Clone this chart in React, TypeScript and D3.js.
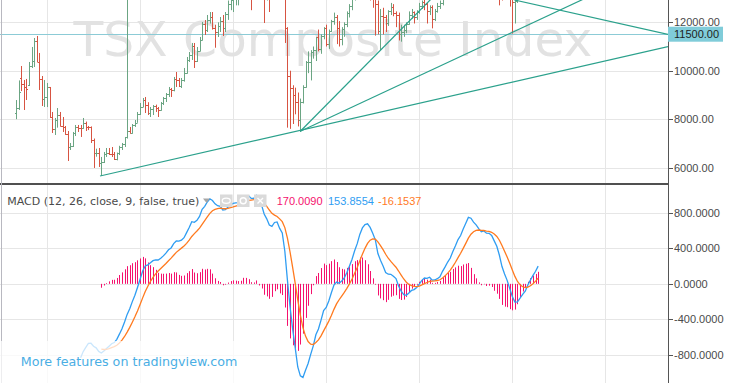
import React from "react";
import * as d3 from "d3";

// Monthly bars, Jan 2000 .. Nov 2016
const opens: number[] = [
  8250, 8481, 9700, 9462, 9348, 9400, 10196, 10406, 11248, 10378, 9640, 8820,
  8934, 9322, 8079, 7608, 7947, 8161, 7736, 7690, 7399, 6839, 6886, 7426,
  7688, 7648, 7638, 7851, 7663, 7656, 7146, 6605, 6612, 6180, 6249, 6570,
  6615, 6569, 6555, 6343, 6586, 6860, 6983, 7258, 7517, 7421, 7773, 7859,
  8221, 8521, 8788, 8586, 8244, 8417, 8546, 8458, 8377, 8668, 8871, 9030,
  9247, 9204, 9668, 9612, 9369, 9607, 9903, 10423, 10669, 11012, 10383, 10824,
  11272, 11946, 11688, 12111, 12204, 11745, 11613, 11831, 12074, 11761, 12345, 12752,
  12908, 13034, 13045, 13166, 13417, 14057, 13907, 13869, 13660, 14099, 14625, 13689,
  13833, 13155, 13583, 13350, 13937, 14715, 14467, 13593, 13771, 11753, 9763, 9271,
  8988, 8695, 7957, 8720, 9325, 10370, 10375, 10787, 10868, 11395, 10911, 11447,
  11746, 11094, 11630, 12038, 12211, 11763, 11294, 11713, 11914, 12369, 12676, 12953,
  13443, 13552, 14137, 14116, 13945, 13803, 13301, 12946, 12769, 11624, 12252, 12204,
  11955, 12452, 12644, 12392, 12293, 11513, 11597, 11665, 11949, 12317, 12423, 12239,
  12434, 12685, 12822, 12750, 12457, 12650, 12129, 12487, 12654, 12787, 13361, 13395,
  13622, 13695, 14210, 14335, 14652, 14604, 15146, 15331, 15626, 14961, 14613, 14745,
  14632, 14674, 15234, 14902, 15225, 15014, 14553, 14468, 13859, 13307, 13529, 13470,
  13010, 12822, 12860, 13494, 13951, 14066, 14065, 14583, 14598, 14725, 14787,
];
const highs: number[] = [
  8790, 9600, 10196, 9618, 9660, 10361, 10981, 11352, 11435, 10733, 9783, 9618,
  9494, 9329, 8297, 8049, 8460, 8297, 8090, 7718, 7512, 7016, 7471, 7760,
  7760, 7760, 8049, 7900, 7720, 7700, 7200, 6780, 6810, 6440, 6645, 6810,
  6810, 6851, 6645, 6620, 6900, 7017, 7265, 13500, 7678, 7800, 7966, 8297,
  8668, 8875, 8916, 8700, 8503, 8585, 8600, 8503, 8710, 8916, 9081, 9329,
  9288, 9742, 9948, 9700, 9700, 10114, 10568, 10774, 11146, 11146, 10981, 11394,
  12012, 12095, 12302, 12425, 12425, 11900, 12000, 12219, 12302, 12425, 12900, 13000,
  13100, 13400, 13300, 13600, 14100, 14200, 14150, 13900, 14100, 14650, 14700, 14100,
  13900, 13800, 13800, 14000, 14800, 15150, 14500, 13900, 13900, 11800, 10000, 9400,
  9300, 9100, 8850, 9400, 10400, 10800, 10850, 11000, 11400, 11700, 11500, 11800,
  11900, 11700, 12100, 12400, 12300, 12050, 11800, 12000, 12450, 12750, 13050, 13500,
  13600, 14300, 14300, 14350, 14100, 13900, 13550, 12950, 12900, 12550, 12600, 12300,
  12500, 12800, 12750, 12450, 12400, 11900, 11900, 12000, 12450, 12550, 12450, 12500,
  12800, 12900, 12950, 12800, 12700, 12700, 12550, 12800, 12900, 13400, 13500, 13650,
  13900, 14250, 14450, 14700, 14700, 15150, 15400, 15650, 15700, 15000, 14900, 14800,
  14800, 15250, 15300, 15500, 15300, 15100, 14700, 14500, 13900, 13800, 13700, 13500,
  13050, 13000, 13600, 14000, 14100, 14300, 14600, 14800, 14800, 14900, 15100,
];
const lows: number[] = [
  8000, 8380, 9160, 8379, 8792, 9370, 10113, 10155, 10361, 9205, 8544, 8503,
  8500, 8050, 7430, 7347, 7650, 7700, 7471, 7350, 6273, 6727, 6851, 7305,
  7471, 7265, 7600, 7512, 7550, 7016, 5985, 6450, 6026, 5654, 6191, 6439,
  6521, 6439, 6315, 6300, 6521, 6727, 6851, 7200, 7400, 7400, 7678, 7850,
  8172, 8503, 8255, 8172, 8090, 8172, 8297, 8090, 8350, 8585, 8709, 8916,
  8916, 9150, 9329, 9329, 9288, 9550, 9880, 10361, 10444, 10114, 10361, 10800,
  11250, 11476, 11600, 11950, 11700, 10950, 11394, 11600, 11435, 11600, 12100, 12500,
  12425, 12700, 12700, 13100, 13400, 13700, 13400, 12500, 13300, 13900, 13000, 13200,
  11970, 12900, 12425, 13300, 13900, 14400, 13000, 13000, 11146, 7650, 7600, 7800,
  8200, 7700, 7470, 8650, 9300, 9900, 9600, 10500, 10400, 10800, 10700, 11300,
  11000, 10900, 11600, 11900, 11100, 11000, 11050, 11400, 11800, 12200, 12500, 12900,
  13100, 13500, 13400, 13600, 13300, 12900, 12600, 11450, 11500, 10850, 11500, 11600,
  11850, 12300, 12250, 11800, 11250, 11200, 11400, 11550, 11900, 12150, 11950, 12100,
  12350, 12550, 12500, 11950, 12300, 11750, 12050, 12400, 12550, 12700, 13200, 13000,
  13400, 13500, 14100, 14150, 14350, 14550, 15000, 15150, 14900, 13900, 14500, 13900,
  14000, 14650, 14700, 14900, 14900, 14500, 14000, 12700, 12900, 13200, 13000, 12650,
  11531, 11950, 12800, 13400, 13600, 13600, 14000, 14400, 14300, 14500, 14300,
];
const closes: number[] = [
  8481, 9129, 9462, 9348, 9252, 10196, 10406, 11248, 10378, 9640, 8820, 8934,
  9322, 8079, 7608, 7947, 8161, 7736, 7690, 7399, 6839, 6886, 7426, 7688,
  7648, 7638, 7851, 7663, 7656, 7146, 6605, 6612, 6180, 6249, 6570, 6615,
  6569, 6555, 6343, 6586, 6860, 6983, 7258, 7517, 7421, 7773, 7859, 8221,
  8521, 8788, 8586, 8244, 8417, 8546, 8458, 8377, 8668, 8871, 9030, 9247,
  9204, 9668, 9612, 9369, 9607, 9903, 10423, 10669, 11012, 10383, 10824, 11272,
  11946, 11688, 12111, 12204, 11745, 11613, 11831, 12074, 11761, 12345, 12752, 12908,
  13034, 13045, 13166, 13417, 14057, 13907, 13869, 13660, 14099, 14625, 13689, 13833,
  13155, 13583, 13350, 13937, 14715, 14467, 13593, 13771, 11753, 9763, 9271, 8988,
  8695, 7957, 8720, 9325, 10370, 10375, 10787, 10868, 11395, 10911, 11447, 11746,
  11094, 11630, 12038, 12211, 11763, 11294, 11713, 11914, 12369, 12676, 12953, 13443,
  13552, 14137, 14116, 13945, 13803, 13301, 12946, 12769, 11624, 12252, 12204, 11955,
  12452, 12644, 12392, 12293, 11513, 11597, 11665, 11949, 12317, 12423, 12239, 12434,
  12685, 12822, 12750, 12457, 12650, 12129, 12487, 12654, 12787, 13361, 13395, 13622,
  13695, 14210, 14335, 14652, 14604, 15146, 15331, 15626, 14961, 14613, 14745, 14632,
  14674, 15234, 14902, 15225, 15014, 14553, 14468, 13859, 13307, 13529, 13470, 13010,
  12822, 12860, 13494, 13951, 14066, 14065, 14583, 14598, 14725, 14787, 15083,
];

const firstYear = 2000;
const gridYears = [2001, 2004, 2007, 2010, 2013, 2016, 2019];
const priceTicks = [12000, 10000, 8000, 6000];
const macdTicks = [800, 400, 0, -400, -800];
const levelPrice = 11500;
// trend line anchors: [bar index, price]; each drawn as a ray extended to the price scale
const trendLines: [number, number][][] = [
  [[32.5, 5654], [252.2, 10993]],
  [[110, 7500], [160.2, 12921]],
  [[110, 7500], [183.4, 11158]],
  [[192.8, 12921], [252.2, 11505]],
];
const macdFast = 12;
const macdSlow = 26;
const macdSignal = 9;
const legendTitle = "MACD (12, 26, close, 9, false, true)";
const legendValues = ["170.0090", "153.8554", "-16.1537"];
const watermark = "TSX Composite Index";
const promo = "More features on tradingview.com";

const UP = "#6ba583";
const DOWN = "#d75442";
const HIST = "#f5116d";
const MACD_C = "#2f9df2";
const SIG_C = "#ff7a1f";
const TREND = "#2ba18c";
const GRID = "#e6e6e6";

function ema(src: (number | null)[], len: number): (number | null)[] {
  const a = 2 / (len + 1);
  const out: (number | null)[] = [];
  let prev: number | null = null;
  const seed: number[] = [];
  for (const v of src) {
    if (v == null) {
      out.push(null);
      continue;
    }
    if (prev == null) {
      seed.push(v);
      if (seed.length === len) {
        prev = d3.mean(seed) as number;
        out.push(prev);
      } else out.push(null);
    } else {
      prev = a * v + (1 - a) * prev;
      out.push(prev);
    }
  }
  return out;
}

const AXIS_X = 668;
const SEP_Y = 184;

export default function App() {
  const last = closes.length - 1;
  const x = d3.scaleLinear().domain([0, last]).range([16, 16 + 2.585 * last]);
  const yP = d3.scaleLinear().domain([6000, 12000]).range([167.6, 22.3]);
  const yM = d3.scaleLinear().domain([-800, 800]).range([355, 212.7]);
  const snap = (v: number) => Math.round(v) + 0.5;

  const eFast = ema(closes, macdFast);
  const eSlow = ema(closes, macdSlow);
  const macd = closes.map((_, i) =>
    eFast[i] != null && eSlow[i] != null ? (eFast[i] as number) - (eSlow[i] as number) : null
  );
  const sig = ema(macd, macdSignal);
  const hist = macd.map((m, i) => (m != null && sig[i] != null ? m - (sig[i] as number) : null));

  const line = d3
    .line<number | null>()
    .defined((d) => d != null)
    .x((_, i) => x(i))
    .y((d) => yM(d as number));

  const gridXs = gridYears.map((yr) => snap(x((yr - firstYear) * 12)));
  const font = "'Liberation Sans', Arial, sans-serif";

  return (
    <svg
      width={730}
      height={383}
      style={{ position: "absolute", left: 0, top: 0, background: "#fff" }}
    >
      <defs>
        <clipPath id="pp">
          <rect x={0} y={0} width={AXIS_X} height={SEP_Y} />
        </clipPath>
        <clipPath id="mp">
          <rect x={0} y={SEP_Y + 1} width={AXIS_X} height={383 - SEP_Y - 1} />
        </clipPath>
      </defs>
      <rect x={0} y={0} width={730} height={383} fill="#fff" />

      {/* grid */}
      {gridXs.map((gx, k) => (
        <line key={"gx" + k} x1={gx} x2={gx} y1={0} y2={383} stroke={GRID} />
      ))}
      {priceTicks.map((p) => (
        <line key={"gp" + p} x1={0} x2={AXIS_X} y1={snap(yP(p))} y2={snap(yP(p))} stroke={GRID} />
      ))}
      {macdTicks.map((v) => (
        <line key={"gm" + v} x1={0} x2={AXIS_X} y1={snap(yM(v))} y2={snap(yM(v))} stroke={GRID} />
      ))}

      {/* watermark */}
      <text
        x={333}
        y={55.5}
        textAnchor="middle"
        fontFamily="'DejaVu Sans', Verdana, sans-serif"
        fontSize={48.7}
        fill="#e2e2e2"
      >
        {watermark}
      </text>

      {/* price pane */}
      <g clipPath="url(#pp)">
        <line
          x1={0}
          x2={AXIS_X}
          y1={snap(yP(levelPrice))}
          y2={snap(yP(levelPrice))}
          stroke="#8ccbd6"
        />
        {closes.map((c, i) => {
          const cx = snap(x(i));
          const col = c >= opens[i] ? UP : DOWN;
          const yo = Math.round(yP(opens[i])) + 0.5;
          const yc = Math.round(yP(c)) + 0.5;
          return (
            <g key={"b" + i} stroke={col} strokeWidth={1}>
              <line x1={cx} x2={cx} y1={yP(highs[i])} y2={yP(lows[i])} />
              <line x1={cx - 1.5} x2={cx} y1={yo} y2={yo} />
              <line x1={cx} x2={cx + 1.5} y1={yc} y2={yc} />
            </g>
          );
        })}
        {trendLines.map(([a, b], k) => {
          const x1 = x(a[0]);
          const y1 = yP(a[1]);
          const x2 = x(b[0]);
          const y2 = yP(b[1]);
          const xe = AXIS_X;
          const ye = y1 + ((y2 - y1) * (xe - x1)) / (x2 - x1);
          return <line key={"t" + k} x1={x1} y1={y1} x2={xe} y2={ye} stroke={TREND} strokeWidth={1.2} />;
        })}
      </g>

      {/* macd pane */}
      <g clipPath="url(#mp)">
        {hist.map((h, i) =>
          h == null ? null : (
            <line
              key={"h" + i}
              x1={snap(x(i))}
              x2={snap(x(i))}
              y1={yM(0)}
              y2={yM(h)}
              stroke={HIST}
              strokeWidth={1}
            />
          )
        )}
        <path d={line(macd) || ""} fill="none" stroke={MACD_C} strokeWidth={1.3} />
        <path d={line(sig) || ""} fill="none" stroke={SIG_C} strokeWidth={1.3} />
      </g>

      {/* pane separator and axes */}
      <line x1={0} x2={AXIS_X} y1={SEP_Y} y2={SEP_Y} stroke="#505050" strokeWidth={2} />
      <line x1={1.5} x2={1.5} y1={0} y2={383} stroke="#b8b8c0" />
      <line x1={AXIS_X + 0.5} x2={AXIS_X + 0.5} y1={0} y2={383} stroke="#555" />

      {priceTicks.map((p) => (
        <g key={"pt" + p}>
          <line x1={AXIS_X} x2={AXIS_X + 5} y1={snap(yP(p))} y2={snap(yP(p))} stroke="#555" />
          <text x={674} y={yP(p) + 4} fontFamily={font} fontSize={11} fill="#4a4a4a">
            {p.toFixed(2)}
          </text>
        </g>
      ))}
      {macdTicks.map((v) => (
        <g key={"mt" + v}>
          <line x1={AXIS_X} x2={AXIS_X + 5} y1={snap(yM(v))} y2={snap(yM(v))} stroke="#555" />
          <text x={674} y={yM(v) + 4} fontFamily={font} fontSize={11} fill="#4a4a4a">
            {v.toFixed(4)}
          </text>
        </g>
      ))}

      {/* last-level label */}
      <rect x={AXIS_X} y={yP(levelPrice) - 7.7} width={55} height={15} fill="#80ccd9" />
      <text x={674} y={yP(levelPrice) + 4} fontFamily={font} fontSize={11} fill="#1e1e1e">
        {levelPrice.toFixed(2)}
      </text>

      {/* legend */}
      <text x={7.3} y={205} fontFamily="'DejaVu Sans', Verdana, sans-serif" fontSize={11} fill="#4a4a4a">
        {legendTitle}
      </text>
      <path d="M203,198.5 L210,198.5 L206.5,203 Z" fill="#a6a6a6" />
      {[220, 237, 254].map((bx, k) => (
        <g key={"ic" + k}>
          <rect x={bx} y={194.5} width={12.5} height={12.5} fill="#dadada" />
          {k === 0 ? (
            <ellipse cx={bx + 6.25} cy={200.75} rx={4} ry={2.6} fill="none" stroke="#fff" strokeWidth={1.2} />
          ) : k === 1 ? (
            <circle cx={bx + 6.25} cy={200.75} r={3} fill="none" stroke="#fff" strokeWidth={1.4} />
          ) : (
            <path
              d={`M${bx + 3.5},${198} L${bx + 9},${203.5} M${bx + 9},${198} L${bx + 3.5},${203.5}`}
              stroke="#fff"
              strokeWidth={1.4}
            />
          )}
        </g>
      ))}
      <text x={276.7} y={205} fontFamily={font} fontSize={11} fill={HIST}>
        {legendValues[0]}
      </text>
      <text x={328} y={205} fontFamily={font} fontSize={11} fill={MACD_C}>
        {legendValues[1]}
      </text>
      <text x={378} y={205} fontFamily={font} fontSize={11} fill={SIG_C}>
        {legendValues[2]}
      </text>

      {/* promo banner */}
      <rect x={0} y={341} width={250} height={42} fill="#fff" opacity={0.75} />
      <text x={20.7} y={366.3} fontFamily="'DejaVu Sans', Verdana, sans-serif" fontSize={12.7} fill="#4aaee4">
        {promo}
      </text>
    </svg>
  );
}
